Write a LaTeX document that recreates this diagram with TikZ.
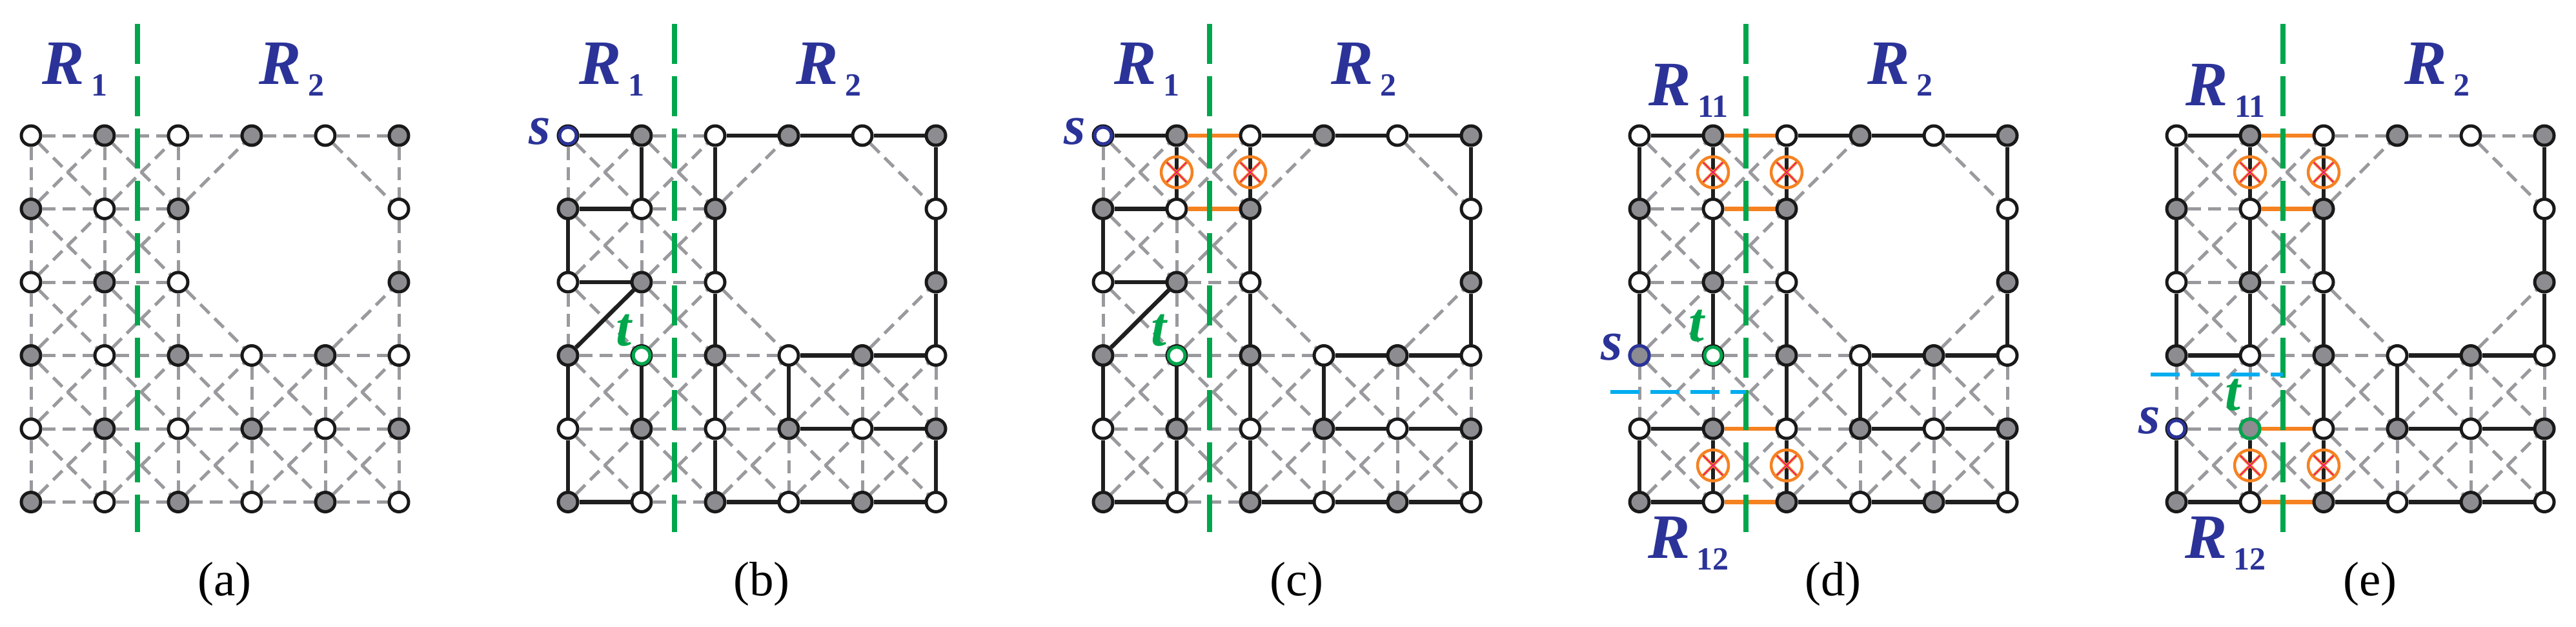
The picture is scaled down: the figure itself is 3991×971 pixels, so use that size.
\documentclass[tikz,border=0pt]{standalone}
\usepackage{fontspec}
\setmainfont{Liberation Serif}
\usetikzlibrary{calc,shapes.geometric,backgrounds}
\definecolor{rblue}{rgb}{0.17,0.2,0.6}
\definecolor{tgreen}{rgb}{0,0.65,0.3}
\definecolor{nfill}{rgb}{0.55,0.55,0.57}
\definecolor{eg}{rgb}{0.6,0.6,0.62}
\definecolor{orng}{rgb}{0.96,0.51,0.13}
\definecolor{cyn}{rgb}{0,0.68,0.94}
\tikzset{
 wnode/.style={circle,draw=black!90,fill=white,line width=5pt,minimum size=30pt,inner sep=0pt},
 gnode/.style={wnode,fill=nfill},
 gline/.style={draw=eg,line width=5pt,dash pattern=on 20pt off 11pt},
 bline/.style={draw=black!88,line width=6.5pt},
 oline/.style={draw=orng,line width=6.5pt},
 greenline/.style={draw=tgreen,line width=8pt,dash pattern=on 62pt off 19pt},
 cyanline/.style={draw=cyn,line width=6pt,dash pattern=on 45pt off 17pt},
 xmark/.style={circle,draw=orng,line width=4.5pt,minimum size=48pt,inner sep=0pt,
   path picture={\draw[orng,line width=4.5pt] (path picture bounding box.north west)--(path picture bounding box.south east) (path picture bounding box.north east)--(path picture bounding box.south west);
   \draw[magenta,line width=1.3pt] (path picture bounding box.north west)--(path picture bounding box.south east) (path picture bounding box.north east)--(path picture bounding box.south west);}},
 rlab/.style={text=rblue,font=\fontsize{98}{98}\selectfont\bfseries\itshape,inner sep=0pt},
 slab/.style={text=rblue,font=\fontsize{86}{86}\selectfont\bfseries\itshape,inner sep=0pt},
 tlab/.style={slab,text=tgreen},
 captxt/.style={font=\fontsize{75}{75}\selectfont,inner sep=0pt},
}
\newcommand\sub[1]{\hspace{10pt}\raisebox{-18pt}{\fontsize{50}{50}\selectfont\bfseries\upshape #1}}
\newcommand\gedge[5]{\pgfmathtruncatemacro\ok{(#4>=0)&&(#4<=5)&&(#5>=0)&&(#5<=5)&&!(((#2==3)||(#2==4))&&((#3==1)||(#3==2)))&&!(((#4==3)||(#4==4))&&((#5==1)||(#5==2)))}\ifnum\ok=1 \draw[gline] (#1n#2#3) -- (#1n#4#5);\fi}
\newcommand\gridpanel[2]{%
 \foreach \i in {0,...,5}{\foreach \j in {0,...,5}{%
   \pgfmathtruncatemacro\hole{((\i==3)||(\i==4))&&((\j==1)||(\j==2))}%
   \ifnum\hole=0
     \pgfmathtruncatemacro\parity{mod(\i+\j,2)}%
     \ifnum\parity=0 \node[wnode] (#1n\i\j) at ({#2+114*\i},{210+113.5*\j}) {};
     \else \node[gnode] (#1n\i\j) at ({#2+114*\i},{210+113.5*\j}) {};\fi
   \fi}}%
 \begin{pgfonlayer}{background}
 \foreach \i in {0,...,5}{\foreach \j in {0,...,5}{%
   \pgfmathtruncatemacro\ip{\i+1}\pgfmathtruncatemacro\jp{\j+1}\pgfmathtruncatemacro\jm{\j-1}%
   \ifnum\i<5 \gedge{#1}{\i}{\j}{\ip}{\j}\fi
   \ifnum\j<5 \gedge{#1}{\i}{\j}{\i}{\jp}\fi
   \ifnum\i<5 \gedge{#1}{\i}{\j}{\ip}{\jp}\gedge{#1}{\i}{\j}{\ip}{\jm}\fi
 }}
 \end{pgfonlayer}
 \draw[greenline] ({#2+165},37) coordinate (#1gt) -- ({#2+165},824) coordinate (#1gb);
}
\newcommand\blk[2]{\begin{pgfonlayer}{background}\foreach \ea/\eb in {#2} {\draw[bline] (#1n\ea) -- (#1n\eb);}\end{pgfonlayer}}
\newcommand\org[2]{\begin{pgfonlayer}{background}\foreach \ea/\eb in {#2} {\draw[oline] (#1n\ea) -- (#1n\eb);}\end{pgfonlayer}}
\newcommand\xm[3]{\node[xmark] (#1x#2#3) at ($(#1n#2#3)!0.5!(#1n#2\the\numexpr#3+1\relax)$) {};}
\newcommand\Rtop[1]{\blk{#1}{20/30,30/40,40/50}}
\newcommand\Rrest[1]{\blk{#1}{50/51,51/52,52/53,53/43,43/33,33/34,34/44,44/54,54/55,55/45,45/35,35/25,25/24,24/23,23/22,22/21,21/20}}
\newcommand\Lbc[1]{\blk{#1}{00/10,10/11,11/01,01/02,02/12,12/03,03/04,04/05,05/15,15/14,14/13}}
\newcommand\Otop[1]{\org{#1}{10/20,11/21}}
\newcommand\Obot[1]{\org{#1}{14/24,15/25}}
\begin{document}
\begin{tikzpicture}[x=1pt,y=-1pt]
\useasboundingbox (0,0) rectangle (3991,971);
% (a)
\gridpanel{a}{48}
\node[rlab] (aR1) at (48+68,107) {R\sub{1}};
\node[rlab] (aR2) at (48+404,107) {R\sub{2}};
\node[captxt] (acap) at (48+300,904) {(a)};
% (b)
\gridpanel{b}{880}
\Lbc{b}\Rtop{b}\Rrest{b}
\node[wnode,draw=rblue,minimum size=26pt] (bs) at (bn00) {};
\node[wnode,draw=tgreen,minimum size=26pt] (bt) at (bn13) {};
\node[slab] (bsl) at (880-44,204) {s};
\node[tlab] (btl) at (880+86,512) {t};
\node[rlab] (bR1) at (880+68,107) {R\sub{1}};
\node[rlab] (bR2) at (880+404,107) {R\sub{2}};
\node[captxt] (bcap) at (880+300,904) {(b)};
% (c)
\gridpanel{c}{1709}
\Lbc{c}\Rtop{c}\Rrest{c}\Otop{c}
\node[wnode,draw=rblue,minimum size=26pt] (cs) at (cn00) {};
\node[wnode,draw=tgreen,minimum size=26pt] (ct) at (cn13) {};
\xm{c}{1}{0}\xm{c}{2}{0}
\node[slab] (csl) at (1709-44,204) {s};
\node[tlab] (ctl) at (1709+86,512) {t};
\node[rlab] (cR1) at (1709+68,107) {R\sub{1}};
\node[rlab] (cR2) at (1709+404,107) {R\sub{2}};
\node[captxt] (ccap) at (1709+300,904) {(c)};
% (d)
\gridpanel{d}{2540}
\blk{d}{00/10,00/01,01/02,02/03,10/11,11/12,12/13,04/14,04/05,05/15,14/15}
\Rtop{d}\Rrest{d}\Otop{d}\Obot{d}
\node[gnode,draw=rblue] (ds) at (dn03) {};
\node[wnode,draw=tgreen,minimum size=26pt] (dt) at (dn13) {};
\xm{d}{1}{0}\xm{d}{2}{0}\xm{d}{1}{4}\xm{d}{2}{4}
\coordinate (dc1) at (2495,607);
\draw[cyanline] (dc1) -- (dc1 -| dgt);
\node[slab] (dsl) at (2497,538) {s};
\node[tlab] (dtl) at (2628,505) {t};
\node[rlab] (dR11) at (2540+76,140) {R\sub{11}};
\node[rlab] (dR12) at (2540+76,841) {R\sub{12}};
\node[rlab] (dR2) at (2540+404,107) {R\sub{2}};
\node[captxt] (dcap) at (2540+300,904) {(d)};
% (e)
\gridpanel{e}{3372}
\blk{e}{00/10,00/01,01/02,02/03,03/13,10/11,11/12,12/13,04/05,05/15,15/14}
\Rrest{e}\Otop{e}\Obot{e}
\node[wnode,draw=rblue,minimum size=26pt] (es) at (en04) {};
\node[gnode,draw=tgreen] (et) at (en14) {};
\xm{e}{1}{0}\xm{e}{2}{0}\xm{e}{1}{4}\xm{e}{2}{4}
\coordinate (ec1) at (3332,580);
\draw[cyanline] (ec1) -- (ec1 -| egt);
\node[slab] (esl) at (3330,652) {s};
\node[tlab] (etl) at (3459,612) {t};
\node[rlab] (eR11) at (3372+76,140) {R\sub{11}};
\node[rlab] (eR12) at (3372+76,841) {R\sub{12}};
\node[rlab] (eR2) at (3372+404,107) {R\sub{2}};
\node[captxt] (ecap) at (3372+300,904) {(e)};
\end{tikzpicture}
\end{document}
